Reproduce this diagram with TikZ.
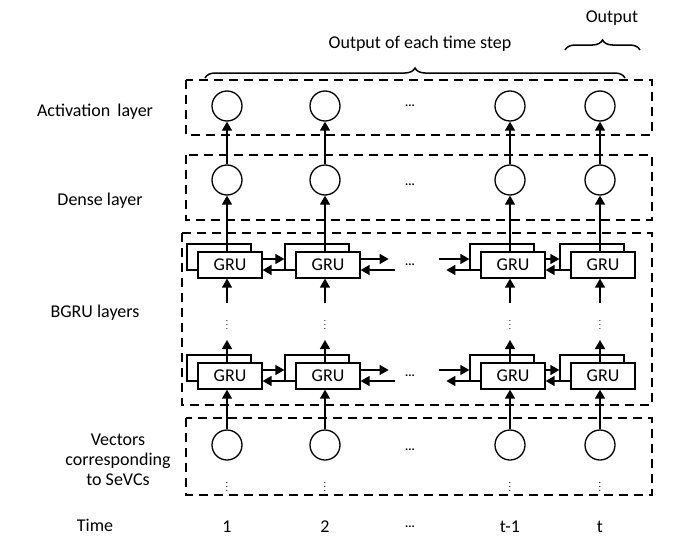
\documentclass[tikz,border=0pt]{standalone}
\usepackage{fontspec}
\setmainfont{Carlito}
\usetikzlibrary{arrows.meta,decorations.pathreplacing}
\begin{document}
\begin{tikzpicture}[x=1pt,y=-1pt,
	every node/.style={font=\fontsize{18}{21}\selectfont},
	unit/.style={circle, draw=black, line width=1.3pt, minimum size=30pt, inner sep=0pt},
	layer/.style={draw=black, dashed, line width=1.5pt, dash pattern=on 9pt off 6pt},
	gru/.style={draw=black, fill=white, line width=1.3pt, minimum width=64pt, minimum height=26pt, inner sep=0pt},
	arr/.style={-{Triangle[length=9pt,width=10pt]}, line width=1.5pt},
	]
\useasboundingbox (0,0) rectangle (691,546);
% layer boxes
\draw[layer] (186,80) rectangle (652,135);
\draw[layer] (186,155) rectangle (652,220);
\draw[layer] (182,233) rectangle (652,405);
\draw[layer] (186,418) rectangle (652,495);
% left labels
\node (lact) at (95,112) {Activation\, layer};
\node (lden) at (100,201) {Dense layer};
\node (lbgru) at (95,313) {BGRU layers};
\node[align=center, font=\fontsize{18}{20}\selectfont] (lvec) at (118,460) {Vectors\\corresponding\\to SeVCs};
\node (ltime) at (95,525) {Time};
% columns
\foreach \i/\x/\t in {1/227/1, 2/325/2, 3/510/t-1, 4/600/t} {
	\node[unit] (a\i) at (\x,106) {};
	\node[unit] (d\i) at (\x,180) {};
	\node[gru] (gub\i) at (\x-8,257) {};
	\node[gru] (gu\i) at (\x+3,265) {GRU};
	\node[gru] (glb\i) at (\x-8,368) {};
	\node[gru] (gl\i) at (\x+3,376) {GRU};
	\node[unit] (v\i) at (\x,445) {};
	\node[font=\fontsize{10}{10}\selectfont, inner sep=0pt] (vd\i) at (\x,484) {$\vdots$};
	\node[font=\fontsize{9}{9}\selectfont, inner sep=0pt] (md\i) at (\x,322) {$\vdots$};
	\node (t\i) at (\x,527) {\t};
	\coordinate (mu\i) at (\x,303);
	\coordinate (ml\i) at (\x,340);
	\draw[arr] (d\i) -- (a\i);
	\draw[arr] (gu\i.north -| d\i) -- (d\i);
	\draw[arr] (v\i) -- (gl\i.south -| v\i);
	\draw[arr] (mu\i) -- (gu\i.south -| mu\i);
	\draw[arr] (gl\i.north -| ml\i) -- (ml\i);
}
% dots
\foreach \y/\n in {106/a, 185/d, 265/u, 376/l, 450/v, 527/t}
	\node[font=\bfseries\fontsize{12}{12}\selectfont] (dots\n) at (410,\y) {...};
% recurrent connections
\foreach \g in {u,l} {
	\draw[arr] ([yshift=6pt]g\g1.east) -- ([yshift=6pt]g\g1.east -| g\g b2.west);
	\draw[arr] ([yshift=-5pt]g\g2.west) -- ([yshift=-5pt]g\g2.west -| g\g1.east);
	\draw[arr] ([yshift=6pt]g\g3.east) -- ([yshift=6pt]g\g3.east -| g\g b4.west);
	\draw[arr] ([yshift=-5pt]g\g4.west) -- ([yshift=-5pt]g\g4.west -| g\g3.east);
	\draw[arr] ([yshift=6pt]g\g2.east) -- ([yshift=6pt,xshift=28pt]g\g2.east);
	\draw[arr] ([yshift=-5pt,xshift=34pt]g\g2.east) -- ([yshift=-5pt]g\g2.east);
	\draw[arr] ([yshift=6pt,xshift=-30pt]g\g b3.west |- g\g3.east) -- ([yshift=6pt]g\g b3.west |- g\g3.east);
	\draw[arr] ([yshift=-5pt]g\g3.west) -- ([yshift=-5pt,xshift=-34pt]g\g3.west);
}
% braces
\draw[line width=1.5pt, decorate, decoration={brace, amplitude=10pt}] (205,78) -- (625,78);
\node (out) at (420,44) {Output of each time step};
\draw[line width=1.5pt, decorate, decoration={brace, amplitude=10pt}] (565,50) -- (640,50);
\node (outl) at (612,18) {Output};
\end{tikzpicture}
\end{document}
